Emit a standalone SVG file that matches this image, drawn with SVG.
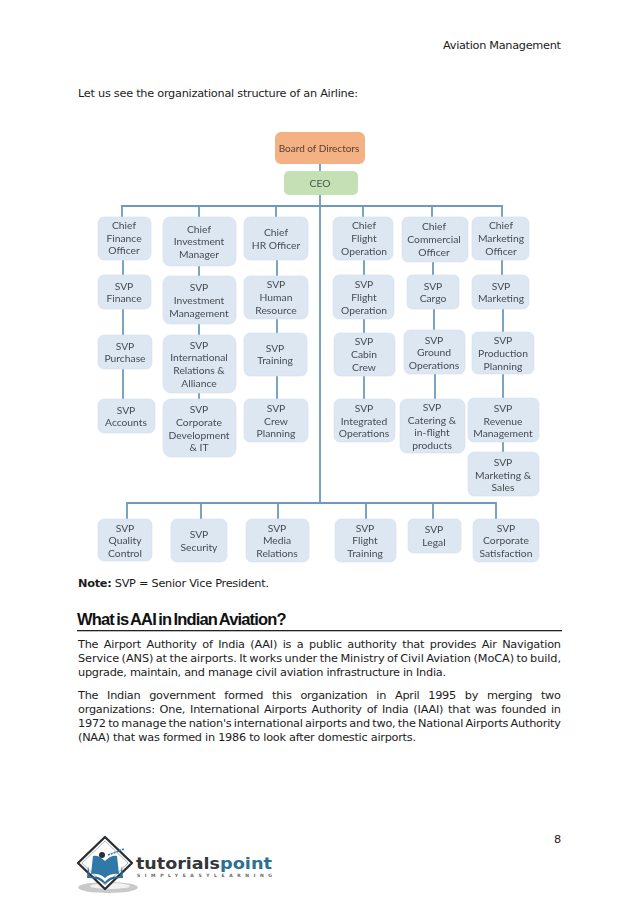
<svg xmlns="http://www.w3.org/2000/svg" width="638" height="903" viewBox="0 0 638 903">
<style>
.b{font-family:"DejaVu Sans",Verdana,sans-serif;font-size:11.3px;fill:#1c1c1c}
.n rect{fill:#dde7f2;stroke:#d3dfec;stroke-width:.6}
.n text{font-family:Lato,"Open Sans",sans-serif;font-size:10.3px;fill:#464c51;text-anchor:middle}
.c path{fill:none;stroke:#6c9bbd;stroke-width:1.8}
</style>
<defs><filter id="s" x="-2%" y="-2%" width="104%" height="104%"><feGaussianBlur stdDeviation="0.35"/></filter></defs>
<rect width="638" height="903" fill="#fff"/>
<text class="b" x="443" y="49" textLength="118">Aviation Management</text>
<text class="b" x="78" y="97" textLength="280">Let us see the organizational structure of an Airline:</text>
<g filter="url(#s)">
<g class="c" id="connectors">
<path d="M320 164V503M122 217V206H502V217M199 206V217M276 206V217M363 206V217M432 206V217"/>
<path d="M127 519V503H496V519M201 503V519M278 503V519M366 503V519M433 503V519"/>
<path d="M123 260V275M123 309V335M123 369V399M199 266V276M199 324V335M199 393V399M277 260V276M277 319V333M277 376V399M364 260V275M364 319V333M364 376V399M433 262V275M434 309V330M435 374V399M502 260V275M503 309V332M503 374V398M503 442V452"/>
</g>
<g id="board"><rect x="275" y="132" width="90" height="32" rx="6" fill="#f4b183"/><text x="319" y="152" font-family="Lato,sans-serif" font-size="10" fill="#5a4030" text-anchor="middle">Board of Directors</text></g>
<g id="ceo"><rect x="284" y="171" width="74" height="24" rx="5" fill="#c5e0b4"/><text x="320" y="187" font-family="Lato,sans-serif" font-size="10.3" fill="#4a5548" text-anchor="middle">CEO</text></g>
<g class="n" id="cfo"><rect x="98" y="217" width="53" height="43" rx="6"/><text x="124" y="229">Chief</text><text x="124" y="242">Finance</text><text x="124" y="254">Officer</text></g>
<g class="n" id="cim"><rect x="163" y="217" width="73" height="49" rx="7"/><text x="199" y="233">Chief</text><text x="199" y="245">Investment</text><text x="199" y="258">Manager</text></g>
<g class="n" id="chr"><rect x="244" y="217" width="64" height="43" rx="6"/><text x="276" y="236">Chief</text><text x="276" y="249">HR Officer</text></g>
<g class="n" id="cfl"><rect x="333" y="217" width="60" height="43" rx="6"/><text x="364" y="229">Chief</text><text x="364" y="242">Flight</text><text x="364" y="255">Operation</text></g>
<g class="n" id="cco"><rect x="402" y="217" width="66" height="45" rx="6"/><text x="434" y="230">Chief</text><text x="434" y="243">Commercial</text><text x="434" y="256">Officer</text></g>
<g class="n" id="cmk"><rect x="472" y="217" width="57" height="43" rx="6"/><text x="501" y="229">Chief</text><text x="501" y="242">Marketing</text><text x="501" y="255">Officer</text></g>
<g class="n" id="s-fin"><rect x="98" y="275" width="53" height="34" rx="6"/><text x="124" y="290">SVP</text><text x="124" y="302">Finance</text></g>
<g class="n" id="s-inv"><rect x="163" y="276" width="73" height="48" rx="7"/><text x="199" y="291">SVP</text><text x="199" y="304">Investment</text><text x="199" y="317">Management</text></g>
<g class="n" id="s-hr"><rect x="244" y="276" width="64" height="43" rx="6"/><text x="276" y="288">SVP</text><text x="276" y="301">Human</text><text x="276" y="314">Resource</text></g>
<g class="n" id="s-fl"><rect x="333" y="275" width="61" height="44" rx="6"/><text x="364" y="288">SVP</text><text x="364" y="301">Flight</text><text x="364" y="314">Operation</text></g>
<g class="n" id="s-car"><rect x="407" y="275" width="52" height="34" rx="5"/><text x="433" y="290">SVP</text><text x="433" y="302">Cargo</text></g>
<g class="n" id="s-mk"><rect x="472" y="275" width="57" height="34" rx="6"/><text x="501" y="290">SVP</text><text x="501" y="302">Marketing</text></g>
<g class="n" id="s-pur"><rect x="98" y="335" width="54" height="34" rx="6"/><text x="125" y="350">SVP</text><text x="125" y="362">Purchase</text></g>
<g class="n" id="s-int"><rect x="163" y="335" width="73" height="58" rx="8"/><text x="199" y="349">SVP</text><text x="199" y="361">International</text><text x="199" y="374">Relations &amp;</text><text x="199" y="387">Alliance</text></g>
<g class="n" id="s-tr"><rect x="244" y="333" width="63" height="43" rx="6"/><text x="275" y="352">SVP</text><text x="275" y="364">Training</text></g>
<g class="n" id="s-cab"><rect x="334" y="333" width="61" height="43" rx="6"/><text x="364" y="345">SVP</text><text x="364" y="358">Cabin</text><text x="364" y="371">Crew</text></g>
<g class="n" id="s-gr"><rect x="404" y="330" width="61" height="44" rx="6"/><text x="434" y="344">SVP</text><text x="434" y="356">Ground</text><text x="434" y="369">Operations</text></g>
<g class="n" id="s-pr"><rect x="472" y="332" width="62" height="42" rx="6"/><text x="503" y="344">SVP</text><text x="503" y="357">Production</text><text x="503" y="370">Planning</text></g>
<g class="n" id="s-acc"><rect x="98" y="399" width="57" height="34" rx="6"/><text x="126" y="414">SVP</text><text x="126" y="426">Accounts</text></g>
<g class="n" id="s-cd"><rect x="163" y="399" width="73" height="58" rx="8"/><text x="199" y="413">SVP</text><text x="199" y="426">Corporate</text><text x="199" y="439">Development</text><text x="199" y="451">&amp; IT</text></g>
<g class="n" id="s-cr"><rect x="244" y="399" width="64" height="43" rx="6"/><text x="276" y="412">SVP</text><text x="276" y="425">Crew</text><text x="276" y="437">Planning</text></g>
<g class="n" id="s-io"><rect x="334" y="399" width="61" height="43" rx="6"/><text x="364" y="412">SVP</text><text x="364" y="425">Integrated</text><text x="364" y="437">Operations</text></g>
<g class="n" id="s-cat"><rect x="400" y="399" width="65" height="54" rx="7"/><text x="432" y="411">SVP</text><text x="432" y="424">Catering &amp;</text><text x="432" y="436">in-flight</text><text x="432" y="449">products</text></g>
<g class="n" id="s-rev"><rect x="468" y="398" width="71" height="44" rx="6"/><text x="503" y="412">SVP</text><text x="503" y="425">Revenue</text><text x="503" y="437">Management</text></g>
<g class="n" id="s-ms"><rect x="468" y="452" width="71" height="44" rx="6"/><text x="503" y="466">SVP</text><text x="503" y="479">Marketing &amp;</text><text x="503" y="491">Sales</text></g>
<g class="n" id="b-qc"><rect x="98" y="519" width="54" height="42" rx="6"/><text x="125" y="532">SVP</text><text x="125" y="544">Quality</text><text x="125" y="557">Control</text></g>
<g class="n" id="b-sec"><rect x="171" y="519" width="56" height="43" rx="6"/><text x="199" y="538">SVP</text><text x="199" y="551">Security</text></g>
<g class="n" id="b-med"><rect x="246" y="519" width="63" height="43" rx="6"/><text x="277" y="532">SVP</text><text x="277" y="544">Media</text><text x="277" y="557">Relations</text></g>
<g class="n" id="b-ft"><rect x="335" y="519" width="61" height="43" rx="6"/><text x="365" y="532">SVP</text><text x="365" y="544">Flight</text><text x="365" y="557">Training</text></g>
<g class="n" id="b-leg"><rect x="408" y="519" width="53" height="34" rx="5"/><text x="434" y="533">SVP</text><text x="434" y="546">Legal</text></g>
<g class="n" id="b-cs"><rect x="473" y="519" width="66" height="43" rx="6"/><text x="506" y="532">SVP</text><text x="506" y="544">Corporate</text><text x="506" y="557">Satisfaction</text></g>
</g>
<text class="b" x="78" y="587" textLength="191"><tspan font-weight="700">Note:</tspan> SVP = Senior Vice President.</text>
<text x="77" y="625" font-family="Liberation Sans,Arial,sans-serif" font-weight="700" font-size="16.5" letter-spacing="-.85" word-spacing="-1.4" fill="#111">What is AAI in Indian Aviation?</text>
<rect x="77" y="630" width="485" height="1.3" fill="#222"/>
<text class="b" x="78" y="648" textLength="483" word-spacing="2.2">The Airport Authority of India (AAI) is a public authority that provides Air Navigation</text>
<text class="b" x="78" y="662" textLength="483" word-spacing="-1">Service (ANS) at the airports. It works under the Ministry of Civil Aviation (MoCA) to build,</text>
<text class="b" x="78" y="676" textLength="368">upgrade, maintain, and manage civil aviation infrastructure in India.</text>
<text class="b" x="78" y="699" textLength="483" word-spacing="5.5">The Indian government formed this organization in April 1995 by merging two</text>
<text class="b" x="78" y="713" textLength="483" word-spacing="1.5">organizations: One, International Airports Authority of India (IAAI) that was founded in</text>
<text class="b" x="78" y="727" textLength="483" word-spacing="-1">1972 to manage the nation's international airports and two, the National Airports Authority</text>
<text class="b" x="78" y="741" textLength="338">(NAA) that was formed in 1986 to look after domestic airports.</text>
<text class="b" x="554" y="843">8</text>
<g id="logo">
<ellipse cx="108" cy="887.5" rx="30" ry="5.5" fill="#c9c9c9"/>
<ellipse cx="110" cy="886" rx="20" ry="3" fill="#f2f2f2"/>
<path d="M105 837L132 863L105 889L78 863Z" fill="#fff" stroke="#2b2e33" stroke-width="2.4" stroke-linejoin="round"/>
<path d="M105 841L128 863L105 885L82 863Z" fill="none" stroke="#9a9a9a" stroke-width=".7"/>
<path d="M93 856Q99 855 105 861L105 878Q99 873 91 874Z" fill="#2f78a8"/>
<path d="M117 856Q111 855 105 861L105 878Q111 873 119 874Z" fill="#2f78a8"/>
<path d="M88 866L90 877Q99 875 105 882Q111 875 120 877L122 866L123 878Q112 877 105 884Q98 877 87 878Z" fill="#2b6a93"/>
<circle cx="102" cy="855" r="3" fill="#2b2e33"/>
<path d="M108 855L124 849" stroke="#2f78a8" stroke-width="1.6" stroke-dasharray="2 1"/>
<text x="136" y="869" font-family="DejaVu Sans,sans-serif" font-weight="700" font-size="16" fill="#33363a" textLength="84" lengthAdjust="spacingAndGlyphs">tutorials</text>
<text x="220" y="869" font-family="DejaVu Sans,sans-serif" font-weight="700" font-size="16" fill="#2f6f94" textLength="52" lengthAdjust="spacingAndGlyphs">point</text>
<text x="137" y="876.5" font-family="DejaVu Sans,sans-serif" font-weight="700" font-size="4.5" fill="#666" textLength="135">SIMPLYEASYLEARNING</text>
</g>
</svg>
